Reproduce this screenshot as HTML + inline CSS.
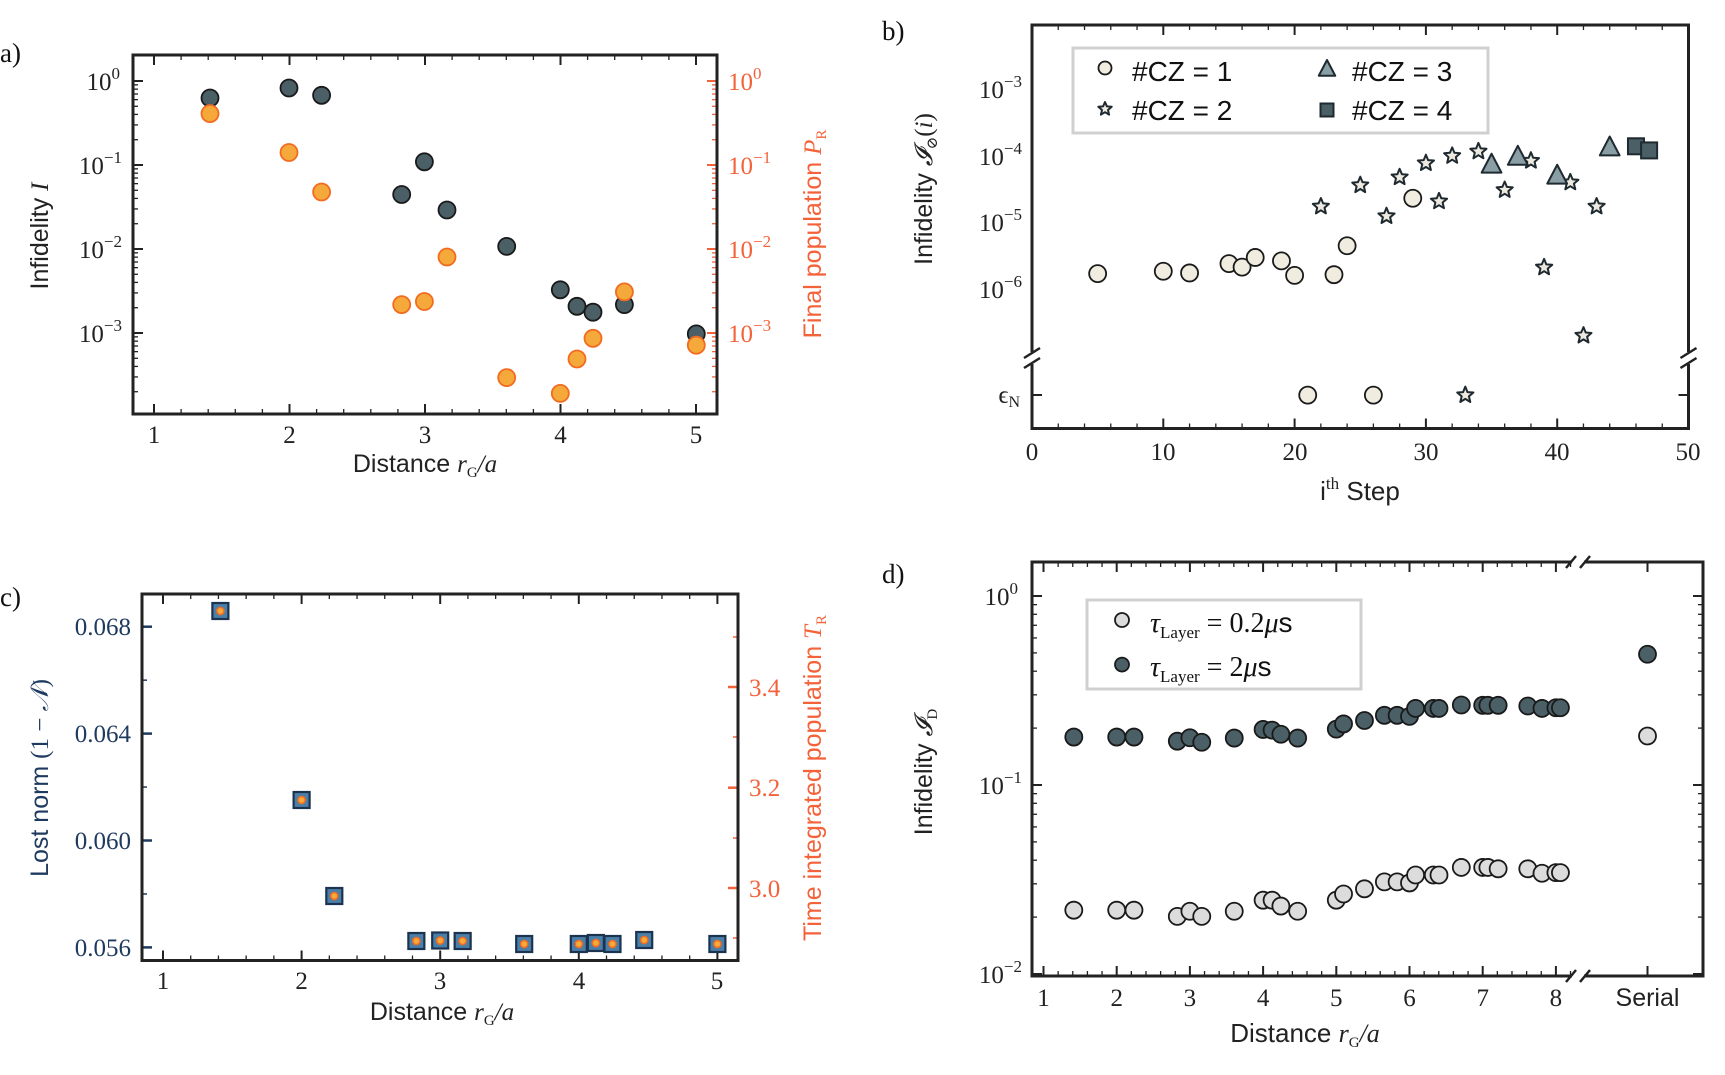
<!DOCTYPE html>
<html><head><meta charset="utf-8"><style>
html,body{margin:0;padding:0;background:#fff;}
svg{display:block;}
.s{font-family:"Liberation Sans","DejaVu Sans",sans-serif;}
.m{font-family:"Liberation Serif","DejaVu Serif",serif;}
</style></head><body>
<svg id="sv" width="1725" height="1075" viewBox="0 0 1725 1075" xmlns="http://www.w3.org/2000/svg">
<rect width="1725" height="1075" fill="#fff"/>
<g id="geo"></g>
<!-- panel labels -->
<g class="m" font-size="27" fill="#111">
<text x="0" y="62">a)</text>
<text x="882" y="40">b)</text>
<text x="0" y="606">c)</text>
<text x="882" y="583">d)</text>
</g>
<!-- Panel a text -->
<g class="m" font-size="25" fill="#222" text-anchor="middle">
<text x="154" y="443">1</text><text x="289.5" y="443">2</text><text x="425" y="443">3</text><text x="560.5" y="443">4</text><text x="696" y="443">5</text>
</g>
<g class="m" font-size="25" fill="#222" text-anchor="end">
<text x="120" y="90">10<tspan font-size="17" dy="-11">0</tspan></text>
<text x="122" y="174">10<tspan font-size="17" dy="-11">−1</tspan></text>
<text x="122" y="258">10<tspan font-size="17" dy="-11">−2</tspan></text>
<text x="122" y="342">10<tspan font-size="17" dy="-11">−3</tspan></text>
</g>
<g class="m" font-size="25" fill="#f4623a">
<text x="728" y="90">10<tspan font-size="17" dy="-11">0</tspan></text>
<text x="728" y="174">10<tspan font-size="17" dy="-11">−1</tspan></text>
<text x="728" y="258">10<tspan font-size="17" dy="-11">−2</tspan></text>
<text x="728" y="342">10<tspan font-size="17" dy="-11">−3</tspan></text>
</g>
<text transform="translate(48,236) rotate(-90)" text-anchor="middle" font-size="25" fill="#222" class="s">Infidelity <tspan class="m" font-style="italic">I</tspan></text>
<text transform="translate(821,234) rotate(-90)" text-anchor="middle" font-size="25" fill="#f4623a" class="s">Final population <tspan class="m" font-style="italic">P</tspan><tspan class="m" font-size="15" dy="5">R</tspan></text>
<text x="425" y="472" text-anchor="middle" font-size="25" fill="#222" class="s">Distance <tspan class="m" font-style="italic">r</tspan><tspan class="m" font-size="15" dy="5">G</tspan><tspan class="m" font-style="italic" dy="-5">/a</tspan></text>

<!-- Panel b text -->
<g class="m" font-size="25" fill="#222" text-anchor="middle">
<text x="1032" y="460">0</text><text x="1163" y="460">10</text><text x="1295" y="460">20</text><text x="1426" y="460">30</text><text x="1557" y="460">40</text><text x="1688" y="460">50</text>
</g>
<g class="m" font-size="25" fill="#222" text-anchor="end">
<text x="1022" y="98">10<tspan font-size="17" dy="-11">−3</tspan></text>
<text x="1022" y="165">10<tspan font-size="17" dy="-11">−4</tspan></text>
<text x="1022" y="231">10<tspan font-size="17" dy="-11">−5</tspan></text>
<text x="1022" y="298">10<tspan font-size="17" dy="-11">−6</tspan></text>
<text x="1020" y="403">ϵ<tspan font-size="16" dy="4">N</tspan></text>
</g>
<text transform="translate(932,189) rotate(-90)" text-anchor="middle" font-size="25" fill="#222" class="s">Infidelity <tspan class="m" font-style="italic">𝓘</tspan><tspan class="m" font-size="15" dy="5">⊘</tspan><tspan class="m" dy="-5">(<tspan font-style="italic">i</tspan>)</tspan></text>
<text x="1360" y="500" text-anchor="middle" font-size="26" fill="#222" class="s">i<tspan class="m" font-size="17" dy="-11">th</tspan><tspan dy="11"> Step</tspan></text>
<rect x="1073" y="48" width="415" height="85" fill="#fff" stroke="#d0d0d0" stroke-width="3"/>
<g class="s" font-size="28" fill="#111">
<text x="1132" y="81">#CZ = 1</text><text x="1352" y="81">#CZ = 3</text>
<text x="1132" y="120">#CZ = 2</text><text x="1352" y="120">#CZ = 4</text>
</g>

<!-- Panel c text -->
<g class="m" font-size="25" fill="#222" text-anchor="middle">
<text x="163" y="989">1</text><text x="301.6" y="989">2</text><text x="440" y="989">3</text><text x="579" y="989">4</text><text x="717" y="989">5</text>
</g>
<g class="m" font-size="25" fill="#1f3a5f" text-anchor="end">
<text x="131" y="635">0.068</text><text x="131" y="742">0.064</text><text x="131" y="849">0.060</text><text x="131" y="956">0.056</text>
</g>
<g class="m" font-size="25" fill="#f4623a">
<text x="749" y="696">3.4</text><text x="749" y="796">3.2</text><text x="749" y="897">3.0</text>
</g>
<text transform="translate(48,778) rotate(-90)" text-anchor="middle" font-size="25" fill="#1f3a5f" class="s">Lost norm <tspan class="m">(1 − <tspan font-style="italic">𝒩</tspan>)</tspan></text>
<text transform="translate(821,778) rotate(-90)" text-anchor="middle" font-size="25" fill="#f4623a" class="s">Time integrated population <tspan class="m" font-style="italic">T</tspan><tspan class="m" font-size="15" dy="5">R</tspan></text>
<text x="442" y="1020" text-anchor="middle" font-size="25" fill="#222" class="s">Distance <tspan class="m" font-style="italic">r</tspan><tspan class="m" font-size="15" dy="5">G</tspan><tspan class="m" font-style="italic" dy="-5">/a</tspan></text>

<!-- Panel d text -->
<g class="m" font-size="25" fill="#222" text-anchor="middle">
<text x="1043.5" y="1006">1</text><text x="1116.7" y="1006">2</text><text x="1189.9" y="1006">3</text><text x="1263.1" y="1006">4</text><text x="1336.3" y="1006">5</text><text x="1409.5" y="1006">6</text><text x="1482.7" y="1006">7</text><text x="1555.9" y="1006">8</text>
</g>
<text x="1647.5" y="1006" text-anchor="middle" font-size="25" fill="#222" class="s">Serial</text>
<g class="m" font-size="25" fill="#222" text-anchor="end">
<text x="1018" y="605">10<tspan font-size="17" dy="-11">0</tspan></text>
<text x="1022" y="794">10<tspan font-size="17" dy="-11">−1</tspan></text>
<text x="1022" y="983">10<tspan font-size="17" dy="-11">−2</tspan></text>
</g>
<text transform="translate(932,772) rotate(-90)" text-anchor="middle" font-size="25" fill="#222" class="s">Infidelity <tspan class="m" font-style="italic">𝓘</tspan><tspan class="m" font-size="15" dy="5">D</tspan></text>
<text x="1305" y="1042" text-anchor="middle" font-size="26" fill="#222" class="s">Distance <tspan class="m" font-style="italic">r</tspan><tspan class="m" font-size="15" dy="5">G</tspan><tspan class="m" font-style="italic" dy="-5">/a</tspan></text>
<rect x="1087" y="600" width="274" height="89" fill="#fff" stroke="#d0d0d0" stroke-width="3"/>
<g class="m" font-size="28" fill="#111">
<text x="1150" y="632"><tspan font-style="italic">τ</tspan><tspan font-size="17" dy="6">Layer</tspan><tspan dy="-6"> = 0.2<tspan font-style="italic">μ</tspan><tspan class="s">s</tspan></tspan></text>
<text x="1150" y="676"><tspan font-style="italic">τ</tspan><tspan font-size="17" dy="6">Layer</tspan><tspan dy="-6"> = 2<tspan font-style="italic">μ</tspan><tspan class="s">s</tspan></tspan></text>
</g>
<g id="geo2"></g>
</svg>
<script>
(function(){
var NS="http://www.w3.org/2000/svg",G=document.getElementById('geo');
function el(t,a){var e=document.createElementNS(NS,t);for(var k in a)e.setAttribute(k,a[k]);G.appendChild(e);return e;}
function L(x1,y1,x2,y2,c,w){el('line',{x1:x1,y1:y1,x2:x2,y2:y2,stroke:c,'stroke-width':w||1.5});}
function C(x,y,r,f,s,w){el('circle',{cx:x,cy:y,r:r,fill:f,stroke:s,'stroke-width':w||1.8});}
function log10(v){return Math.log(v)/Math.LN10;}
var DK='#222';
function box(x1,y1,x2,y2,c){el('rect',{x:x1,y:y1,width:x2-x1,height:y2-y1,fill:'none',stroke:c||'#222','stroke-width':3});}
function logTicks(Y0,dec,ymin,ymax,nLo,nHi,xs,c,majors){
 for(var n=nLo;n<=nHi;n++){for(var k=1;k<=9;k++){var y=Y0-dec*(n+log10(k));if(y<ymin+2||y>ymax-2)continue;
  var maj=(k==1)&&(majors==null||majors.indexOf(n)>=0);var len=maj?10:5;
  xs.forEach(function(p){L(p[0],y,p[0]+p[1]*len,y,c,maj?2:1.3);});}}
}
function xTicks(list,ytop,ybot,c){list.forEach(function(t){var len=t[1]?10:5;L(t[0],ybot,t[0],ybot-len,c,t[1]?2:1.3);L(t[0],ytop,t[0],ytop+len,c,t[1]?2:1.3);});}
// ---- Panel a
var ax=[];for(var i=0;i<=20;i++){var v=1+0.2*i;ax.push([154+135.5*(v-1),Math.abs(v-Math.round(v))<1e-6]);}
xTicks(ax,55,414,DK);
logTicks(81,84,55,414,-4,0,[[133,1]],DK);
logTicks(81,84,55,414,-4,0,[[717,-1]],'#f4623a');
box(133,55,717,414);
var ad=[[210,98],[289,88],[321.6,95.3],[401.7,194.5],[424.4,161.8],[447,210],[506.7,246.4],[560.3,289.8],[577,306.3],[593,312.2],[624.4,304.6],[696.3,333.9]];
var ao=[[210,113.6],[289,152.5],[321.6,192],[401.7,304.6],[424.4,301.5],[447,257],[506.7,377.6],[560.3,393.4],[577,359],[593,338.3],[624.4,291.9],[696.3,345.2]];
ad.forEach(function(p){C(p[0],p[1],8.5,'#4a5f66','#1a1a1a');});
ao.forEach(function(p){C(p[0],p[1],8.5,'#f5a93a','#f26b21');});
// ---- Panel b
var bx=[];for(var s=0;s<=50;s+=2){bx.push([1032+13.13*s,s%10==0]);}
xTicks(bx,25,428.5,DK);
logTicks(89-66.7*(-3),66.7,25,345,-8,-2,[[1032,1],[1688.5,-1]],DK);
L(1032,395,1042,395,DK,2);L(1688.5,395,1678.5,395,DK,2);
box(1032,25,1688.5,428.5);
[1032,1688.5].forEach(function(x){el('rect',{x:x-4,y:352,width:8,height:12,fill:'#fff'});L(x-8,358,x+8,348,DK,2.5);L(x-8,368,x+8,358,DK,2.5);});
function bX(s){return 1032+13.13*s;}
var bc=[[5,795],[10,788],[12,793],[15,766],[16,776],[17,748],[19,758],[20,800],[23,798],[24,714],[29,576],[21,1148],[26,1148]];
bc.forEach(function(p){C(bX(p[0]),p[1]*0.3442,8.5,'#f0ece0','#1a1a1a');});
function star(x,y,R,r){var pts=[];for(var i=0;i<10;i++){var a=-Math.PI/2+i*Math.PI/5,rr=i%2?r:R;pts.push((x+rr*Math.cos(a)).toFixed(1)+','+(y+rr*Math.sin(a)).toFixed(1));}
 el('polygon',{points:pts.join(' '),fill:'#eeeae0',stroke:'#1f2a30','stroke-width':2,'stroke-linejoin':'round'});}
var bs=[[22,600],[25,538],[27,628],[28,515],[30,474],[31,585],[32,453],[34,440],[36,552],[38,467],[39,777],[41,530],[42,975],[43,600],[33,1148]];
bs.forEach(function(p){star(bX(p[0]),p[1]*0.3442,8.5,3.8);});
function tri(x,y,h,f){el('polygon',{points:(x)+','+(y-h*0.6)+' '+(x-h*0.55)+','+(y+h*0.45)+' '+(x+h*0.55)+','+(y+h*0.45),fill:f,stroke:'#1f2a30','stroke-width':2,'stroke-linejoin':'round'});}
function sq(x,y,a,f,s,w){el('rect',{x:x-a/2,y:y-a/2,width:a,height:a,fill:f,stroke:s,'stroke-width':w||2});}
[[35,478],[37,455],[40,510],[44,428]].forEach(function(p){tri(bX(p[0]),p[1]*0.3442,18,'#8a9ea5');});
[[46,425],[47,437]].forEach(function(p){sq(bX(p[0]),p[1]*0.3442,16,'#4a5f66','#1f2a30');});
// ---- Panel c
var cx=[];for(var i=0;i<=20;i++){var v=1+0.2*i;cx.push([163+138.6*(v-1),Math.abs(v-Math.round(v))<1e-6]);}
xTicks(cx,594,960.5,DK);
function cY(v){return 947.4-(v-0.056)/0.004*106.9;}
[0.056,0.058,0.060,0.062,0.064,0.066,0.068].forEach(function(v,i){var maj=i%2==0;L(142,cY(v),142+(maj?10:5),cY(v),'#1f3a5f',maj?2.5:1.5);});
[[637,0],[687,1],[737,0],[787.7,1],[838,0],[888,1],[938,0]].forEach(function(t){L(738,t[0],738-(t[1]?10:5),t[0],'#f4623a',t[1]?2.5:1.5);});
box(142,594,738,960.5,'#222');
var cp=[[1.414,611],[2,800],[2.236,896],[2.828,941],[3,940.5],[3.162,941],[3.606,944],[4,944],[4.123,943],[4.243,944],[4.472,940],[5,944]];
cp.forEach(function(p){var x=163+138.6*(p[0]-1);sq(x,p[1],16,'#4a7faa','#1c3350',2.2);C(x,p[1],3.6,'#f5a93a','#f26b21',1.5);});
// ---- Panel d
function dX(v){return 1043.5+73.2*(v-1);}
var dx=[];for(var i=0;i<=36;i++){var v=1+0.2*i;dx.push([dX(v),Math.abs(v-Math.round(v))<1e-6]);}
dx.push([1647.5,true]);
xTicks(dx,562,976,DK);
logTicks(596,189,562,976,-3,0,[[1032,1],[1703,-1]],DK);
box(1032,562,1703,976);
[562,976].forEach(function(y){el('rect',{x:1572,y:y-4,width:12,height:8,fill:'#fff'});L(1566,y+6,1576,y-6,DK,2.5);L(1580,y+6,1590,y-6,DK,2.5);});
var dv=[1.414,2,2.236,2.828,3,3.162,3.606,4,4.123,4.243,4.472,5,5.099,5.385,5.657,5.831,6,6.083,6.325,6.403,6.708,7,7.071,7.211,7.616,7.81,8,8.062];
var dd=[580,580,580,592,582,595,583,558,560,572,583,557,542,532,517,517,520,497,497,497,487,488,488,488,490,497,495,495];
var dl=[1082,1082,1082,1100,1085,1100,1085,1053,1053,1070,1085,1053,1035,1020,1000,1000,1003,980,980,980,958,958,958,962,962,975,973,973];
for(var i=0;i<dv.length;i++){C(dX(dv[i]),537+dd[i]*0.3449,8.5,'#4a5f66','#1a1a1a');}
for(var i=0;i<dv.length;i++){C(dX(dv[i]),537+dl[i]*0.3449,8.5,'#dcdcdc','#1a1a1a');}
C(1647.5,537+340*0.3449,8.5,'#4a5f66','#1a1a1a');
C(1647.5,537+577*0.3449,8.5,'#dcdcdc','#1a1a1a');
// legend markers on top
G=document.getElementById('geo2');
C(1105,68,6.5,'#f0ece0','#1a1a1a',1.8);star(1105,109,7,3.2);tri(1327,69,15,'#8a9ea5');sq(1327,110,13,'#4a5f66','#1f2a30');
C(1122,620,7,'#dcdcdc','#1a1a1a');C(1122,664.6,7,'#4a5f66','#1a1a1a');
})();
</script>
</body></html>
